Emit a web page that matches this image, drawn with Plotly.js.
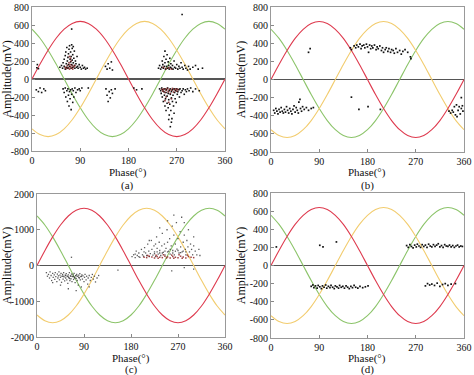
<!DOCTYPE html>
<html>
<head>
<meta charset="utf-8">
<script src="https://cdn.plot.ly/plotly-3.0.1.min.js"></script>
<style>html,body{margin:0;padding:0;background:#fff;}#chart{width:474px;height:375px;}</style>
</head>
<body>
<div id="chart"></div>
<script>
// ---- reference waveform samples (every 15 degrees) ----
const phaseDeg = [0,15,30,45,60,75,90,105,120,135,150,165,180,195,210,225,240,255,270,285,300,315,330,345,360];
const refRed    = [0,166,320,453,554,618,640,618,554,453,320,166,0,-166,-320,-453,-554,-618,-640,-618,-554,-453,-320,-166,0];
const refYellow = [-554,-618,-640,-618,-554,-453,-320,-166,0,166,320,453,554,618,640,618,554,453,320,166,0,-166,-320,-453,-554];
const refGreen  = [554,453,320,166,0,-166,-320,-453,-554,-618,-640,-618,-554,-453,-320,-166,0,166,320,453,554,618,640,618,554];
const refRedC    = [0,415,800,1133,1385,1545,1600,1545,1385,1133,800,415,0,-415,-800,-1133,-1385,-1545,-1600,-1545,-1385,-1133,-800,-415,0];
const refYellowC = [-1385,-1545,-1600,-1545,-1385,-1133,-800,-415,0,415,800,1133,1385,1545,1600,1545,1385,1133,800,415,0,-415,-800,-1133,-1385];
const refGreenC  = [1385,1133,800,415,0,-415,-800,-1133,-1385,-1545,-1600,-1545,-1385,-1133,-800,-415,0,415,800,1133,1385,1545,1600,1545,1385];

// ---- tick labels / texts ----
const xTickVals = [0,90,180,270,360];
const xTickText = ['0','90','180','270','360'];
const yTickVals = [-800,-600,-400,-200,0,200,400,600,800];
const yTickText = ['-800','-600','-400','-200','0','200','400','600','800'];
const yTickValsC = [-2000,-1000,0,1000,2000];
const yTickTextC = ['-2000','-1000','0','1000','2000'];
const panelLabels = ['(a)','(b)','(c)','(d)'];
const xTitle = 'Phase(°)';
const yTitle = 'Amplitude(mV)';

// ---- discharge points [phase, amplitude mV] ----
const aBlack = [
 [52,130],[55,150],[57,120],[58,180],[60,140],[60,220],[62,110],[62,260],[63,300],[64,170],[65,130],[65,350],[66,200],[67,240],[67,120],[68,280],[68,160],[69,330],[70,370],[70,140],[71,220],[72,190],[72,300],[73,250],[73,120],[74,380],[74,160],[75,340],[75,210],[76,130],[76,270],[77,360],[77,180],[78,230],[79,150],[79,310],[80,120],[81,200],[82,170],[83,130],[84,250],[85,140],[86,120],[88,160],[90,130],[92,110],[94,150],[96,120],[98,130],[100,110],[103,120],
 [74,555],[10,160],[12,115],[9,125],
 [137,140],[140,110],[142,170],[145,120],[148,190],[150,100],
 [236,120],[238,150],[240,110],[242,130],[243,200],[244,160],[245,120],[246,250],[247,140],[248,310],[248,180],[249,110],[250,220],[251,140],[252,270],[253,120],[254,190],[255,150],[256,110],[257,230],[258,130],[259,170],[260,120],[262,150],[263,110],[265,200],[266,130],[268,120],[270,160],[272,110],[274,140],[276,120],[278,180],[280,130],[282,110],[285,150],[287,120],[290,100],[292,140],[295,110],[300,130],[305,150],[310,110],[318,120],
 [280,717],
 [8,-120],[12,-140],[15,-100],[18,-150],[22,-110],[25,-130],
 [58,-110],[60,-150],[62,-100],[63,-200],[65,-130],[66,-250],[67,-110],[68,-180],[69,-300],[70,-140],[71,-220],[72,-120],[73,-340],[74,-170],[75,-110],[76,-260],[77,-130],[78,-200],[80,-100],[82,-150],[85,-120],[88,-110],[90,-130],[93,-100],
 [105,-100],[138,-110],[140,-180],[142,-250],[144,-140],[146,-210],[148,-120],[150,-160],[155,-110],[190,-100],[195,-120],[205,-110],
 [238,-110],[240,-130],[241,-160],[242,-100],[243,-200],[244,-120],[245,-250],[246,-140],[247,-180],[248,-300],[248,-110],[249,-220],[250,-150],[250,-350],[251,-120],[252,-270],[252,-190],[253,-100],[254,-320],[254,-160],[255,-230],[256,-130],[256,-400],[257,-280],[258,-170],[258,-110],[259,-350],[260,-210],[260,-140],[261,-440],[262,-250],[262,-120],[263,-180],[264,-300],[265,-110],[265,-380],[266,-150],[267,-220],[268,-130],[269,-260],[270,-110],[271,-170],[272,-140],[274,-120],[275,-200],[276,-110],[278,-150],[280,-130],[282,-110],[284,-170],[286,-120],[288,-140],[290,-110],[293,-130],[296,-100],[300,-140],[305,-110],[312,-130],[258,-530],[260,-480],[255,-450]
];
const aDarkRed = [
 [62,130],[64,115],[66,150],[68,125],[69,180],[70,110],[71,160],[72,135],[73,200],[74,120],[75,150],[76,110],[78,135],[80,150],[70,250],[72,230],
 [242,-115],[244,-135],[246,-110],[248,-150],[250,-125],[252,-105],[254,-140],[256,-115],[258,-160],[260,-125],[262,-105],[264,-145],[266,-120],[268,-110],[270,-135],[272,-115],[250,-200],[255,-260],[260,-220],[248,-240],
 [245,130],[250,115],[255,125],[260,110]
];
const bBlack = [
 [70,300],[73,340],
 [148,350],[150,330],[155,370],[158,350],[160,380],[163,360],[166,390],[168,340],[170,370],[173,380],[175,350],[178,390],[180,360],[182,300],[184,380],[186,340],[188,370],[190,350],[193,380],[196,330],[198,360],[200,340],[203,370],[206,320],[208,350],[210,300],[213,330],[215,350],[218,310],[220,340],[223,300],[225,330],[228,320],[230,290],[233,340],[236,300],[240,320],[243,280],[246,310],[250,330],[255,300],[260,250],[261,230],
 [5,-340],[7,-370],[9,-320],[11,-350],[13,-380],[15,-330],[17,-360],[19,-310],[21,-350],[23,-370],[25,-330],[27,-360],[29,-300],[31,-340],[33,-370],[35,-320],[37,-350],[39,-380],[41,-330],[43,-290],[45,-360],[47,-310],[49,-340],[51,-370],[52,-250],[54,-220],[55,-320],[57,-350],[59,-300],[62,-330],[66,-310],[70,-340],[75,-320],[79,-310],
 [150,-195],[164,-330],[181,-300],[204,-330],
 [332,-350],[335,-370],[338,-340],[340,-360],[342,-300],[344,-390],[346,-280],[347,-410],[349,-340],[351,-300],[353,-380],[355,-320],[357,-290],[355,-200],[358,-350]
];
const cBlack = [
 [18,-200],[20,-300],[22,-250],[24,-350],[25,-180],[27,-280],[28,-420],[30,-220],[31,-330],[33,-260],[34,-390],[35,-200],[36,-310],[38,-450],[39,-240],[40,-350],[41,-290],[42,-180],[43,-400],[44,-270],[45,-330],[46,-220],[47,-470],[48,-300],[49,-250],[50,-380],[51,-200],[52,-320],[53,-430],[54,-270],[55,-350],[56,-230],[57,-400],[58,-300],[59,-500],[60,-260],[61,-340],[62,-200],[63,-420],[64,-290],[65,-370],[66,-240],[67,-450],[68,-310],[69,-260],[70,-390],[71,-220],[72,-330],[73,-480],[74,-280],[75,-360],[76,-250],[77,-420],[78,-300],[79,-550],[80,-270],[81,-350],[82,-230],[83,-400],[84,-310],[85,-600],[86,-260],[87,-380],[88,-290],[90,-450],[91,-330],[92,-250],[94,-400],[95,-300],[97,-520],[98,-350],[100,-280],[102,-420],[104,-330],[106,-250],[108,-380],[110,-300],[112,-460],[115,-350],[118,-280],[60,-650],[75,-700],[45,-550],[30,-480],[100,-600],
 [50,-300],[55,-280],[60,-320],[65,-300],[70,-310],[75,-290],[80,-330],[85,-300],[62,-360],[72,-350],
 [66,230],[155,-130],
 [182,250],[185,300],[188,220],[190,400],[192,280],[195,350],[197,230],[200,450],[202,300],[204,260],[206,500],[208,350],[210,280],[212,600],[214,400],[215,250],[217,330],[219,700],[220,450],[222,290],[224,550],[225,380],[227,250],[229,800],[230,480],[232,320],[234,650],[235,420],[237,280],[239,550],[240,900],[242,370],[244,600],[245,300],[247,480],[249,1000],[250,650],[252,400],[254,750],[255,320],[257,550],[259,1100],[260,420],[262,850],[263,300],[265,600],[267,1200],[268,460],[270,750],[272,350],[274,950],[275,520],[277,1350],[278,380],[280,650],[282,850],[284,450],[285,300],[287,700],[289,520],[290,1000],[292,380],[294,600],[296,450],[298,300],[300,550],[303,400],[306,300],[310,450],[312,280],[262,1410],[250,1250],[282,1200],[235,1050],[300,800],[227,600],[215,700],[205,380],[195,250],[188,320],
 [258,-150],[282,-60],[300,-100],
 [240,350],[245,400],[250,380],[255,450],[260,350],[265,400],[270,420],[275,360],[280,400],[285,380],[235,350],[230,380],[225,330]
];
const cDarkRed = [
 [205,230],[210,220],[215,260],[220,240],[225,210],[230,250],[235,230],[240,220],[245,260],[250,240],[255,210],[260,250],[265,230],[270,220],[275,260],[280,240],[285,210],[290,250],[295,230],[300,220],[212,280],[228,290],[242,300],[258,290],[272,300],[288,290],[248,210],[262,200],[278,205],[232,205]
];
const dBlack = [
 [10,205],[91,223],[97,205],[122,260],
 [75,-230],[78,-215],[80,-245],[83,-225],[86,-250],[88,-220],[91,-235],[94,-255],[96,-225],[99,-240],[102,-215],[104,-250],[107,-230],[110,-245],[112,-220],[115,-240],[118,-255],[120,-225],[123,-235],[126,-250],[128,-220],[131,-240],[134,-230],[137,-250],[140,-225],[143,-240],[146,-255],[149,-230],[152,-245],[155,-220],[158,-240],[162,-250],[166,-230],[171,-245],[176,-235],[181,-225],
 [253,220],[256,200],[259,230],[262,210],[265,195],[268,225],[271,205],[273,235],[276,215],[279,200],[282,230],[285,210],[288,225],[291,200],[294,235],[297,215],[300,205],[303,230],[306,210],[309,225],[312,240],[315,205],[318,220],[321,200],[324,230],[327,215],[330,210],[333,225],[336,205],[339,220],[342,200],[345,215],[348,225],[351,205],[354,215],[357,210],
 [288,-225],[292,-200],[296,-215],[300,-205],[305,-220],[310,-195],[315,-230],[320,-210],[325,-200],[330,-220],[336,-205],[344,-200]
];

// ---- styles ----
const COL_RED = '#de3a4e', COL_YEL = '#f2cc6e', COL_GRN = '#8cc46a';
const FONT = 'Liberation Serif, Times New Roman, serif';

function refTraces(xa, ya, r, y, g) {
  const base = {x: phaseDeg, mode: 'lines', line: {width: 1.1, shape: 'spline'}, xaxis: xa, yaxis: ya, hoverinfo: 'skip', showlegend: false};
  return [
    Object.assign({}, base, {y: g, line: Object.assign({}, base.line, {color: COL_GRN})}),
    Object.assign({}, base, {y: y, line: Object.assign({}, base.line, {color: COL_YEL})}),
    Object.assign({}, base, {y: r, line: Object.assign({}, base.line, {color: COL_RED})})
  ];
}
function pts(arr, xa, ya, color, size, op) {
  return {x: arr.map(p => p[0]), y: arr.map(p => p[1]), mode: 'markers', type: 'scatter',
    marker: {color: color, size: size, symbol: 'square', opacity: op || 1}, xaxis: xa, yaxis: ya, showlegend: false, hoverinfo: 'skip'};
}

const data = [].concat(
  refTraces('x', 'y', refRed, refYellow, refGreen),
  [pts(aBlack, 'x', 'y', '#111', 1.6), pts(aDarkRed, 'x', 'y', '#7a1a1a', 1.6, 0.85)],
  refTraces('x2', 'y2', refRed, refYellow, refGreen),
  [pts(bBlack, 'x2', 'y2', '#111', 1.7)],
  refTraces('x3', 'y3', refRedC, refYellowC, refGreenC),
  [pts(cBlack, 'x3', 'y3', '#333', 1.3, 0.8), pts(cDarkRed, 'x3', 'y3', '#8a1515', 1.5, 0.8)],
  refTraces('x4', 'y4', refRed, refYellow, refGreen),
  [pts(dBlack, 'x4', 'y4', '#111', 1.7)]
);

const W = 474, H = 375;
function xAx(l, r, anchor) {
  return {domain: [l / W, r / W], range: [0, 360], anchor: anchor, tickvals: xTickVals, ticktext: xTickText,
    ticks: 'inside', ticklen: 3, tickcolor: '#888', showline: true, mirror: true, linecolor: '#999', linewidth: 1,
    showgrid: false, zeroline: false, tickfont: {family: FONT, size: 10, color: '#111'}, automargin: false};
}
function yAx(top, bottom, anchor, rng, tv, tt) {
  return {domain: [1 - bottom / H, 1 - top / H], range: rng, anchor: anchor, tickvals: tv, ticktext: tt,
    ticks: 'inside', ticklen: 3, tickcolor: '#888', showline: true, mirror: true, linecolor: '#999', linewidth: 1,
    showgrid: false, zeroline: true, zerolinecolor: '#555', zerolinewidth: 1.6,
    tickfont: {family: FONT, size: 10, color: '#111'}, automargin: false,
    title: {text: yTitle, font: {family: FONT, size: 12, color: '#111'}, standoff: 1}};
}

const txt = (text, x, y, size) => ({text: text, x: x / W, y: 1 - y / H, xref: 'paper', yref: 'paper', showarrow: false,
  xanchor: 'center', yanchor: 'middle', borderpad: 0, font: {family: FONT, size: size, color: '#111'}});

const layout = {
  width: W, height: H, margin: {l: 0, r: 0, t: 0, b: 0}, paper_bgcolor: '#fff', plot_bgcolor: '#fff', showlegend: false,
  xaxis: xAx(32, 225, 'y'), yaxis: yAx(7, 151, 'x', [-800, 800], yTickVals, yTickText),
  xaxis2: xAx(271, 464, 'y2'), yaxis2: yAx(7, 152, 'x2', [-800, 800], yTickVals, yTickText),
  xaxis3: xAx(37, 225, 'y3'), yaxis3: yAx(194, 337, 'x3', [-2000, 2000], yTickValsC, yTickTextC),
  xaxis4: xAx(271, 464, 'y4'), yaxis4: yAx(193, 338, 'x4', [-800, 800], yTickVals, yTickText),
  annotations: [
    txt(xTitle, 128, 172, 11), txt(panelLabels[0], 128, 185, 11),
    txt(xTitle, 367, 172, 11), txt(panelLabels[1], 367, 185, 11),
    txt(xTitle, 131, 358, 11), txt(panelLabels[2], 131, 369, 11),
    txt(xTitle, 367, 358, 11), txt(panelLabels[3], 367, 369, 11)
  ]
};

Plotly.newPlot('chart', data, layout, {staticPlot: true, displayModeBar: false});
</script>
</body>
</html>
